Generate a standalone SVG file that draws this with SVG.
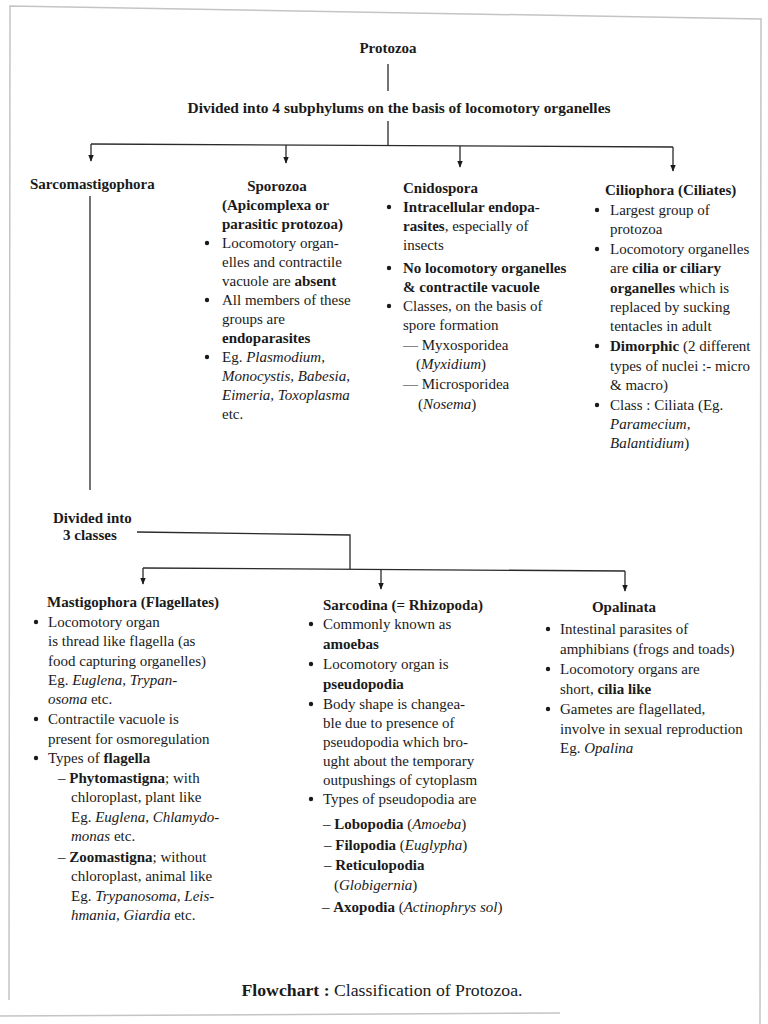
<svg xmlns="http://www.w3.org/2000/svg" width="768" height="1024" viewBox="0 0 768 1024">
<style>
  text { font-family: "Liberation Serif", "Times New Roman", serif; font-size: 15px; fill: #1a1a1a; }
  .h { font-weight: bold; }
  .b { font-weight: bold; }
  .i { font-style: italic; }
  .cap { font-size: 16px; }
  .conn { stroke: #2a2a2a; stroke-width: 1.3; fill: none; }
  .border { stroke: #c4c4c4; stroke-width: 1.5; fill: none; }
  .dot { fill: #1a1a1a; }
</style>
<defs>
  <marker id="arr" viewBox="0 0 10 10" refX="9" refY="5" markerWidth="7" markerHeight="7" orient="auto" markerUnits="userSpaceOnUse">
    <path d="M0,1 L10,5 L0,9 Z" fill="#1a1a1a"/>
  </marker>
</defs>
<rect width="768" height="1024" fill="#ffffff"/>
<g id="page-border">
  <path class="border" d="M9,1000 L10,6 L761,19 L760,1024"/>
  <path class="border" d="M0,1016 L560,1013"/>
</g>

<g id="connectors">
  <line class="conn" x1="388" y1="64" x2="388" y2="91"/>
  <line class="conn" x1="388" y1="121" x2="388" y2="146"/>
  <path class="conn" d="M91,144 L673,147"/>
  <line class="conn" x1="91" y1="144" x2="91" y2="161" marker-end="url(#arr)"/>
  <line class="conn" x1="286" y1="145" x2="286" y2="163" marker-end="url(#arr)"/>
  <line class="conn" x1="460" y1="146" x2="460" y2="167" marker-end="url(#arr)"/>
  <line class="conn" x1="673" y1="147" x2="673" y2="171" marker-end="url(#arr)"/>
  <line class="conn" x1="90" y1="196" x2="90" y2="490"/>
  <path class="conn" d="M137,532 L350,535 L350,569"/>
  <path class="conn" d="M143,568 L625,571"/>
  <line class="conn" x1="143" y1="568" x2="143" y2="584" marker-end="url(#arr)"/>
  <line class="conn" x1="381" y1="570" x2="381" y2="589" marker-end="url(#arr)"/>
  <line class="conn" x1="625" y1="571" x2="625" y2="591" marker-end="url(#arr)"/>
</g>

<g id="protozoa">
  <text class="h" x="388" y="53" text-anchor="middle">Protozoa</text>
</g>
<g id="divided4">
  <text class="h" x="399" y="113" text-anchor="middle" textLength="423" lengthAdjust="spacingAndGlyphs">Divided into 4 subphylums on the basis of locomotory organelles</text>
</g>

<g id="sarcomastigophora">
  <text class="h" x="30" y="189">Sarcomastigophora</text>
</g>

<g id="sporozoa">
  <text class="h" x="277" y="191" text-anchor="middle">Sporozoa</text>
  <text class="b" x="222" y="210">(Apicomplexa or</text>
  <text class="b" x="222" y="229">parasitic protozoa)</text>
  <circle class="dot" cx="207" cy="243" r="2.2"/>
  <text x="222" y="248">Locomotory organ-</text>
  <text x="222" y="267">elles and contractile</text>
  <text x="222" y="286">vacuole are <tspan class="b">absent</tspan></text>
  <circle class="dot" cx="207" cy="300" r="2.2"/>
  <text x="222" y="305">All members of these</text>
  <text x="222" y="324">groups are</text>
  <text class="b" x="222" y="343">endoparasites</text>
  <circle class="dot" cx="207" cy="357" r="2.2"/>
  <text x="222" y="362">Eg. <tspan class="i">Plasmodium,</tspan></text>
  <text class="i" x="222" y="381">Monocystis, Babesia,</text>
  <text class="i" x="222" y="400">Eimeria, Toxoplasma</text>
  <text x="222" y="419">etc.</text>
</g>

<g id="cnidospora">
  <text class="h" x="403" y="193">Cnidospora</text>
  <circle class="dot" cx="389" cy="207" r="2.2"/>
  <text x="403" y="212"><tspan class="b">Intracellular endopa-</tspan></text>
  <text x="403" y="231"><tspan class="b">rasites</tspan>, especially of</text>
  <text x="403" y="250">insects</text>
  <circle class="dot" cx="389" cy="268" r="2.2"/>
  <text class="b" x="403" y="273">No locomotory organelles</text>
  <text class="b" x="403" y="292">&amp; contractile vacuole</text>
  <circle class="dot" cx="389" cy="306" r="2.2"/>
  <text x="403" y="311">Classes, on the basis of</text>
  <text x="403" y="330">spore formation</text>
  <text x="403" y="350">— Myxosporidea</text>
  <text x="416" y="369">(<tspan class="i">Myxidium</tspan>)</text>
  <text x="403" y="389">— Microsporidea</text>
  <text x="418" y="409">(<tspan class="i">Nosema</tspan>)</text>
</g>

<g id="ciliophora">
  <text class="h" x="605" y="195">Ciliophora (Ciliates)</text>
  <circle class="dot" cx="597" cy="210" r="2.2"/>
  <text x="610" y="215">Largest group of</text>
  <text x="610" y="234">protozoa</text>
  <circle class="dot" cx="597" cy="249" r="2.2"/>
  <text x="610" y="254">Locomotory organelles</text>
  <text x="610" y="273">are <tspan class="b">cilia or ciliary</tspan></text>
  <text x="610" y="293"><tspan class="b">organelles</tspan> which is</text>
  <text x="610" y="312">replaced by sucking</text>
  <text x="610" y="331">tentacles in adult</text>
  <circle class="dot" cx="597" cy="346" r="2.2"/>
  <text x="610" y="351"><tspan class="b">Dimorphic</tspan> (2 different</text>
  <text x="610" y="371">types of nuclei :- micro</text>
  <text x="610" y="390">&amp; macro)</text>
  <circle class="dot" cx="597" cy="405" r="2.2"/>
  <text x="610" y="410">Class : Ciliata (Eg.</text>
  <text class="i" x="610" y="429">Paramecium,</text>
  <text x="610" y="448"><tspan class="i">Balantidium</tspan>)</text>
</g>

<g id="divided3">
  <text class="h" x="53" y="523">Divided into</text>
  <text class="h" x="63" y="540">3 classes</text>
</g>

<g id="mastigophora">
  <text class="h" x="47" y="607">Mastigophora (Flagellates)</text>
  <circle class="dot" cx="36" cy="622" r="2.2"/>
  <text x="48" y="627">Locomotory organ</text>
  <text x="48" y="646">is thread like flagella (as</text>
  <text x="48" y="666">food capturing organelles)</text>
  <text x="48" y="685">Eg. <tspan class="i">Euglena, Trypan-</tspan></text>
  <text x="48" y="704"><tspan class="i">osoma</tspan> etc.</text>
  <circle class="dot" cx="36" cy="719" r="2.2"/>
  <text x="48" y="724">Contractile vacuole is</text>
  <text x="48" y="744">present for osmoregulation</text>
  <circle class="dot" cx="36" cy="758" r="2.2"/>
  <text x="48" y="763">Types of <tspan class="b">flagella</tspan></text>
  <text x="58" y="783">– <tspan class="b">Phytomastigna</tspan>; with</text>
  <text x="71" y="802">chloroplast, plant like</text>
  <text x="71" y="822">Eg. <tspan class="i">Euglena</tspan>, <tspan class="i">Chlamydo-</tspan></text>
  <text x="71" y="841"><tspan class="i">monas</tspan> etc.</text>
  <text x="58" y="862">– <tspan class="b">Zoomastigna</tspan>; without</text>
  <text x="71" y="881">chloroplast, animal like</text>
  <text x="71" y="901">Eg. <tspan class="i">Trypanosoma, Leis-</tspan></text>
  <text x="71" y="920"><tspan class="i">hmania, Giardia</tspan> etc.</text>
</g>

<g id="sarcodina">
  <text class="h" x="323" y="610">Sarcodina (= Rhizopoda)</text>
  <circle class="dot" cx="311" cy="624" r="2.2"/>
  <text x="323" y="629">Commonly known as</text>
  <text class="b" x="323" y="649">amoebas</text>
  <circle class="dot" cx="311" cy="664" r="2.2"/>
  <text x="323" y="669">Locomotory organ is</text>
  <text class="b" x="323" y="689">pseudopodia</text>
  <circle class="dot" cx="311" cy="704" r="2.2"/>
  <text x="323" y="709">Body shape is changea-</text>
  <text x="323" y="728">ble due to presence of</text>
  <text x="323" y="747">pseudopodia which bro-</text>
  <text x="323" y="766">ught about the temporary</text>
  <text x="323" y="785">outpushings of cytoplasm</text>
  <circle class="dot" cx="311" cy="799" r="2.2"/>
  <text x="323" y="804">Types of pseudopodia are</text>
  <text x="323" y="829">– <tspan class="b">Lobopodia</tspan> (<tspan class="i">Amoeba</tspan>)</text>
  <text x="324" y="850">– <tspan class="b">Filopodia</tspan> (<tspan class="i">Euglypha</tspan>)</text>
  <text x="324" y="870">– <tspan class="b">Reticulopodia</tspan></text>
  <text x="334" y="890">(<tspan class="i">Globigernia</tspan>)</text>
  <text x="322" y="912">– <tspan class="b">Axopodia</tspan> (<tspan class="i">Actinophrys sol</tspan>)</text>
</g>

<g id="opalinata">
  <text class="h" x="624" y="612" text-anchor="middle">Opalinata</text>
  <circle class="dot" cx="548" cy="629" r="2.2"/>
  <text x="560" y="634">Intestinal parasites of</text>
  <text x="560" y="654">amphibians (frogs and toads)</text>
  <circle class="dot" cx="548" cy="669" r="2.2"/>
  <text x="560" y="674">Locomotory organs are</text>
  <text x="560" y="694">short, <tspan class="b">cilia like</tspan></text>
  <circle class="dot" cx="548" cy="709" r="2.2"/>
  <text x="560" y="714">Gametes are flagellated,</text>
  <text x="560" y="734">involve in sexual reproduction</text>
  <text x="560" y="753">Eg. <tspan class="i">Opalina</tspan></text>
</g>

<g id="caption">
  <text class="cap" x="382" y="996" text-anchor="middle" textLength="281" lengthAdjust="spacingAndGlyphs"><tspan class="b">Flowchart :</tspan> Classification of Protozoa.</text>
</g>
</svg>
